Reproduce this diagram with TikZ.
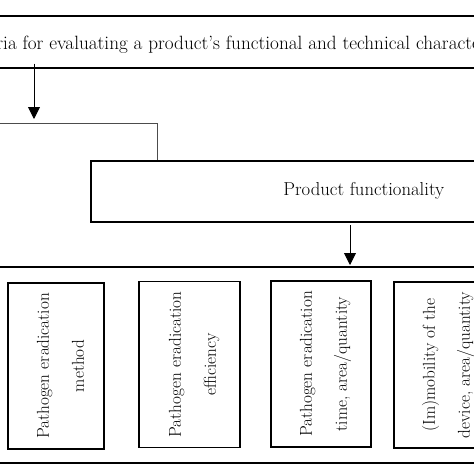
\documentclass[tikz,border=0pt]{standalone}
\usepackage{fontspec}
\usetikzlibrary{arrows.meta}
\def\drawlink{\draw[link]}
\def\critnode{\node[critbox]}

\begin{document}
\begin{tikzpicture}[x=1pt,y=-1pt,
  outerbox/.style={draw=black, line width=1.6pt, inner sep=0pt},
  critbox/.style={draw=black, line width=1.5pt, rotate=90, align=center,
    minimum width=166pt, minimum height=98pt, inner sep=0pt, text height=56pt,
    font=\fontsize{17.2}{35}\selectfont},
  arr/.style={-{Triangle[width=12pt,length=12pt]}, line width=0.9pt},
  link/.style={draw=black!70, line width=0.9pt}]
\useasboundingbox (0,0) rectangle (474,474);
\clip (0,0) rectangle (474,474);

% ---------- criteria header (runs off both sides)
\node[outerbox, anchor=north west, minimum width=540pt, minimum height=52pt] (crit) at (-30,15) {};
\node[anchor=base west, inner sep=0pt, font=\fontsize{19.2}{22}\selectfont] (critlabel) at (3,49)
  {\llap{Criter}ia for evaluating a product's functional and technical characteristics};

% arrow to the left branch, and the elbow coming back to the functionality box
\coordinate (leftdrop) at (34,119);
\coordinate (leftin) at (-10,123);
\coordinate (joint) at (157,123);
\draw[arr] ([yshift=5pt]crit.south -| leftdrop) -- (leftdrop);

% ---------- product functionality
\node[outerbox, anchor=north west, minimum width=546pt, minimum height=61pt,
  font=\fontsize{18.7}{22}\selectfont] (prod) at (90,160) {Product functionality};
\drawlink (leftin) -- (joint) -- (joint |- prod.north);

% ---------- group of criteria boxes
\node[outerbox, anchor=north west, minimum width=540pt, minimum height=196pt] (group) at (-30,266) {};
\coordinate (prodout) at (350,221);
\draw[arr, shorten <=4pt, shorten >=1pt] (prodout) -- (prodout |- group.north);

\critnode[minimum height=96pt] (method) at (56,366) {Pathogen eradication\\method};
\critnode[minimum height=101pt] (effic) at (189.5,364.5) {Pathogen eradication\\efficiency};
\critnode[minimum height=100pt] (time) at (321,364) {Pathogen eradication\\time, area/quantity};
\critnode[minimum height=100pt] (mobil) at (444,365) {(Im)mobility of the\\device, area/quantity};
\end{tikzpicture}
\end{document}
